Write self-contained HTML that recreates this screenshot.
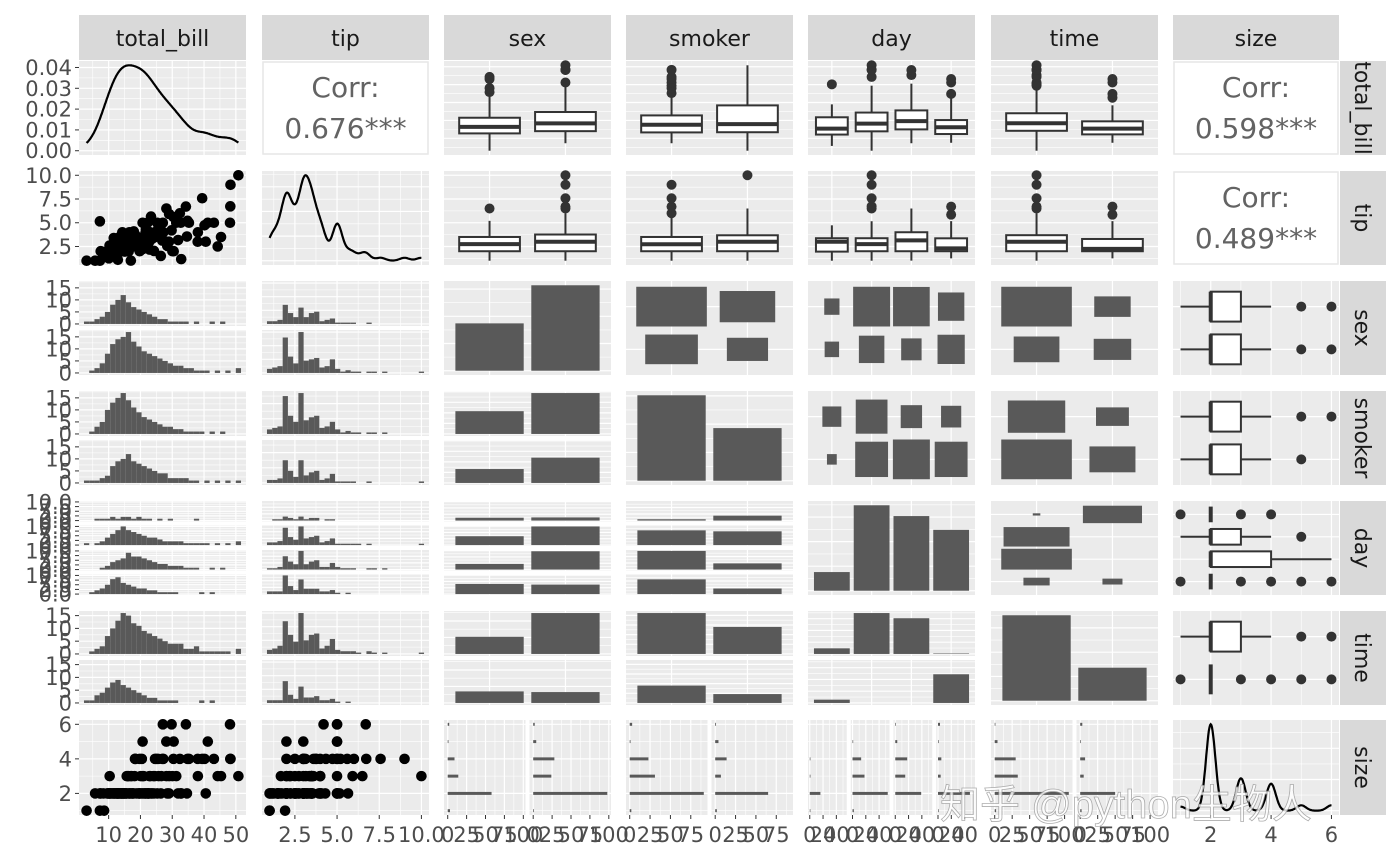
<!DOCTYPE html>
<html><head><meta charset="utf-8"><title>ggpairs tips</title>
<style>html,body{margin:0;padding:0;background:#fff;}svg{display:block;font-family:"DejaVu Sans","Liberation Sans","Noto Sans CJK SC",sans-serif;}</style>
</head><body>
<svg id="chart" width="1400" height="865" viewBox="0 0 1400 865" xmlns="http://www.w3.org/2000/svg"></svg>
<script>
// ---------- data ----------
const billVals=[3.07,5.75,7.25,7.25,7.51,8.35,8.58,9.55,9.78,10.07,10.33,10.34,10.65,11.02,11.35,11.61,12.02,12.46,12.66,12.9,13.03,13.28,13.42,13.81,14.07,14.48,14.78,15.04,15.38,15.69,16.04,16.31,16.45,16.97,17.26,17.51,17.92,18.29,18.43,18.78,19.44,19.82,20.08,20.29,20.65,20.69,21.01,21.58,22.23,22.49,22.76,23.1,23.68,24.06,24.27,24.59,25,25.28,25.71,26.41,26.88,27.05,27.2,28.17,28.44,28.97,29.03,29.8,30.06,30.4,31.27,31.85,32.4,32.83,34.3,34.81,35.26,38.07,39.42,40.17,40.55,41.19,43.11,44.3,45.35,48.17,48.27,48.33,50.81,24.52,22.82,20.45,19.65,18.35,16.58,15.77,14.83,13.94,12.69,11.87,17.47,26.59,38.01,30.46,25.56,23.33,21.7,19.77,15.48,16.99,22.42,28.15,32.68,34.63,20.76,10.29,14.31,18.15,21.16,27.18];
const tipVals=[1,1,1,5.15,2,1.5,1.92,1.45,1.73,1.25,1.67,2,1.5,1.98,2.5,3.39,1.97,1.5,2.5,1.1,2,2.72,3.48,2,2.5,2,3.23,1.96,3,3,2.24,2,2.47,3.5,2.74,3,4.08,3.76,3,3,3,3.18,3.15,2.75,3.35,5,3.5,3.92,5,3.5,3,4,3.31,3.6,2.03,3.61,3.75,5,4,1.5,3.12,5,4,6.5,2.56,3,5.92,4.2,2,5.6,5,3.18,6,1.17,6.7,5.2,5,4,7.58,4.73,3,5,5,2.5,3.5,5,6.73,9,10,3.48,2.18,3,3,2.5,4,2.23,3.02,3.06,2,1.63,3.5,3.41,3,2,4.34,5.65,4.3,2,2.02,1.01,3.48,3,5,3.55,2.24,2.6,4,3.5,3];
const sizeVals=[1,2,1,2,2,2,1,2,2,2,3,2,2,2,2,2,2,2,2,2,2,2,2,2,2,2,2,2,2,3,3,3,2,3,3,2,2,4,4,2,2,2,3,2,3,5,3,2,2,2,2,3,2,3,2,4,4,2,3,2,4,6,4,3,2,2,3,6,3,4,3,2,4,2,6,4,4,3,4,4,2,5,4,3,3,6,4,4,3,3,3,4,2,4,2,2,2,2,2,2,2,3,4,5,4,2,2,4,2,2,2,5,2,2,2,2,2,3,2,2];
const corrLabels=['0.676***','0.598***','0.489***'];

const sexLevels=['Female','Male'];
const smokerLevels=['No','Yes'];
const dayLevels=['Fri','Sat','Sun','Thur'];
const timeLevels=['Dinner','Lunch'];

const sexCounts=[87,157];
const smokerCounts=[151,93];
const dayCounts=[19,87,76,62];
const timeCounts=[176,68];

const crossSexSmoker=[[54,33],[97,60]];
const crossSexDay=[[9,28,18,32],[10,59,58,30]];
const crossSexTime=[[52,35],[124,33]];
const crossSmokerDay=[[4,45,57,45],[15,42,19,17]];
const crossSmokerTime=[[106,45],[70,23]];
const crossDayTime=[[12,7],[87,0],[76,0],[1,61]];

// boxplot stats [low, q1, median, q3, high]
const billBoxSex=[[3.07,12.75,16.4,21.5,34.8],[7.25,14.0,18.35,24.7,40.17]];
const billOutSex=[[35.83,38.07,43.11,44.3],[41.19,48.17,48.27,48.33,50.81]];
const billBoxSmoker=[[7.25,13.3,17.6,22.8,34.8],[3.07,13.4,17.9,28.4,50.81]];
const billOutSmoker=[[35.26,38.01,39.42,41.19,43.11,44.3,48.27],[]];
const billBoxDay=[[5.75,12.1,15.4,21.75,28.97],[3.07,13.9,18.2,24.4,39.42],[7.25,14.99,19.6,25.6,40.55],[7.51,12.4,16.2,20.2,32.68]];
const billOutDay=[[40.17],[44.3,48.27,48.33,50.81],[45.35,48.17],[34.83,41.19,43.11]];
const billBoxTime=[[3.07,14.2,18.4,24.0,38.07],[7.51,12.2,15.4,19.5,28.44]];
const billOutTime=[[39.42,40.17,40.55,41.19,44.3,45.35,48.17,48.27,48.33,50.81],[32.68,34.83,41.19,43.11]];
const tipBoxSex=[[1,2,2.75,3.5,5.2],[1,2,3,3.76,6.0]];
const tipOutSex=[[6.5],[6.5,6.7,7.58,9,10]];
const tipBoxSmoker=[[1,2,2.74,3.5,5.85],[1,2,3,3.68,6.5]];
const tipOutSmoker=[[6,6.7,7.58,9],[10]];
const tipBoxDay=[[1,1.96,3,3.37,4.73],[1,2,2.75,3.37,5.16],[1.01,2,3.15,4,6.5],[1.25,2,2.3,3.36,5.17]];
const tipOutDay=[[],[6.5,6.73,7.58,9,10],[],[5.85,6.7]];
const tipBoxTime=[[1,2,3,3.69,6.0],[1.25,2,2.25,3.29,5.17]];
const tipOutTime=[[6.5,6.7,7.58,9,10],[5.85,6.7]];
const sizeBoxSex=[[1,2,2,3,4],[1,2,2,3,4]];
const sizeOutSex=[[5,6],[5,6]];
const sizeBoxSmoker=[[1,2,2,3,4],[1,2,2,3,4]];
const sizeOutSmoker=[[5,6],[5]];
const sizeBoxDay=[[2,2,2,2,2],[1,2,2,3,4],[2,2,2,4,6],[2,2,2,2,2]];
const sizeOutDay=[[1,3,4],[5],[],[1,3,4,5,6]];
const sizeBoxTime=[[1,2,2,3,4],[2,2,2,2,2]];
const sizeOutTime=[[5,6],[1,3,4,5,6]];

// histogram counts (30 bins)
const billHistSex=[[1,1,2,3,5,8,10,12,9,7,6,5,4,3,2,2,1,1,1,1,0,1,0,0,1,0,1,0,0,0],[0,1,2,4,8,12,14,15,17,13,11,9,8,7,6,5,4,3,3,2,2,1,1,1,0,1,0,1,0,2]];
const billHistSmoker=[[0,1,3,5,10,13,15,17,14,11,9,7,6,5,4,3,3,2,2,1,1,1,1,0,1,0,1,0,0,0],[1,1,1,2,3,7,9,10,12,9,8,7,6,5,4,4,2,2,2,2,1,1,0,1,0,1,0,1,0,1]];
const billHistDay=[[0,0,1,1,1,2,1,2,2,1,2,1,1,0,1,0,1,0,0,0,0,1,0,0,0,0,0,0,0,0],[1,0,1,2,4,6,8,10,8,7,6,5,4,4,3,2,2,2,2,1,1,1,1,1,0,1,0,1,0,2],[0,0,0,1,2,4,5,6,9,7,7,6,5,4,3,3,2,2,2,1,1,1,0,0,1,0,1,0,0,0],[0,1,2,3,5,8,9,6,5,4,3,3,2,2,1,1,1,1,0,0,0,0,1,0,1,0,0,0,0,0]];
const billHistTime=[[0,1,2,3,7,10,13,16,15,12,11,9,8,7,6,5,4,4,4,2,2,3,1,1,1,1,1,1,0,2],[1,1,3,4,6,8,9,7,6,5,4,3,2,2,1,1,1,1,0,0,0,0,1,0,1,0,0,0,0,0]];
const tipHistSex=[[2,2,3,14,8,5,12,5,8,9,2,3,4,1,1,1,1,0,0,1,0,0,0,0,0,0,0,0,0,0],[3,4,5,26,12,7,30,9,10,11,4,5,10,3,1,2,1,1,0,1,1,0,1,0,0,0,0,0,0,1]];
const tipHistSmoker=[[3,4,5,25,12,8,27,9,11,12,4,5,8,3,1,2,1,1,0,1,1,0,1,0,0,0,0,0,0,0],[2,2,3,15,8,4,15,5,7,8,2,3,6,1,1,1,1,0,0,1,0,0,0,0,0,0,0,0,0,1]];
const tipHistDay=[[0,1,1,3,2,1,3,1,2,2,0,1,1,0,0,0,0,0,0,0,0,0,0,0,0,0,0,0,0,0],[2,2,3,13,6,4,14,5,6,7,2,3,5,1,1,1,1,1,0,1,0,0,0,0,0,0,0,0,0,1],[1,1,2,10,6,4,14,4,6,7,2,2,5,2,1,1,1,0,0,1,1,0,1,0,0,0,0,0,0,0],[2,2,2,14,6,3,11,4,4,4,2,2,3,1,0,1,0,0,0,0,0,0,0,0,0,0,0,0,0,0]];
const tipHistTime=[[3,4,6,24,14,9,30,10,14,15,4,6,11,3,2,2,2,1,0,2,1,0,1,0,0,0,0,0,0,1],[2,2,2,16,6,3,12,4,4,5,2,2,3,1,0,1,0,0,0,0,0,0,0,0,0,0,0,0,0,0]];
// size counts for sizes 1..6 per level
const sizeValues=[1,2,3,4,5,6];
const sizeCountSex=[[3,58,14,9,1,2],[1,98,24,28,4,2]];
const sizeCountSmoker=[[2,91,31,23,1,3],[2,65,7,14,4,1]];
const sizeCountDay=[[1,16,1,1,0,0],[2,53,18,13,1,0],[0,39,15,18,3,1],[1,48,4,5,1,3]];
const sizeCountTime=[[2,106,33,30,4,1],[2,50,5,7,1,3]];

// ---------- layout ----------
const vars=['total_bill','tip','sex','smoker','day','time','size'];
const levels={sex:sexLevels,smoker:smokerLevels,day:dayLevels,time:timeLevels};
const margCounts={sex:sexCounts,smoker:smokerCounts,day:dayCounts,time:timeCounts};
const crossTables={'sex|smoker':crossSexSmoker,'sex|day':crossSexDay,'sex|time':crossSexTime,'smoker|day':crossSmokerDay,'smoker|time':crossSmokerTime,'day|time':crossDayTime};
const NPTS=Math.min(billVals.length,tipVals.length,sizeVals.length);
const vals={total_bill:billVals.slice(0,NPTS),tip:tipVals.slice(0,NPTS),size:sizeVals.slice(0,NPTS)};
const dom={total_bill:[0.68,53.2],tip:[0.55,10.45],size:[0.75,6.25]};
const steps={total_bill:10,tip:2.5,size:2};
const bwScale={total_bill:0.75,tip:0.55,size:0.6};
const histRange={total_bill:[3.07,50.81],tip:[1,10]};
const boxStats={total_bill:{sex:billBoxSex,smoker:billBoxSmoker,day:billBoxDay,time:billBoxTime},tip:{sex:tipBoxSex,smoker:tipBoxSmoker,day:tipBoxDay,time:tipBoxTime},size:{sex:sizeBoxSex,smoker:sizeBoxSmoker,day:sizeBoxDay,time:sizeBoxTime}};
const boxOuts={total_bill:{sex:billOutSex,smoker:billOutSmoker,day:billOutDay,time:billOutTime},tip:{sex:tipOutSex,smoker:tipOutSmoker,day:tipOutDay,time:tipOutTime},size:{sex:sizeOutSex,smoker:sizeOutSmoker,day:sizeOutDay,time:sizeOutTime}};
const histTables={total_bill:{sex:billHistSex,smoker:billHistSmoker,day:billHistDay,time:billHistTime},tip:{sex:tipHistSex,smoker:tipHistSmoker,day:tipHistDay,time:tipHistTime}};
const sizeCounts={sex:sizeCountSex,smoker:sizeCountSmoker,day:sizeCountDay,time:sizeCountTime};

const PX=[79,262,444,626,808,991,1173], PY=[61,171,281,391,501,611,720];
const pw=c=>c===6?166:167, ph=r=>r===6?95:94;
const S=document.getElementById('chart');
const NS='http://www.w3.org/2000/svg';
function mk(tag,parent){const e=document.createElementNS(NS,tag);(parent||S).appendChild(e);return e;}
function set(e,o){for(const k in o)e.setAttribute(k,o[k]);return e;}
function lin(d,r){return v=>r[0]+(v-d[0])/(d[1]-d[0])*(r[1]-r[0]);}
function niceStep(range){const raw=range/3.5;const p=Math.pow(10,Math.floor(Math.log10(raw)));let best=p,bd=1e9;for(const m of [1,2,2.5,5,10]){const s=m*p;const d=Math.abs(Math.log(s/raw));if(d<bd){bd=d;best=s;}}return best;}
function ticksFor(d,st){const o=[];for(let k=Math.ceil(d[0]/st-1e-9);k*st<=d[1]+1e-9;k++)o.push(+(k*st).toFixed(10));return o;}
function minorsFor(d,st){const o=[];for(let k=Math.floor(d[0]/st)-1;k<=Math.ceil(d[1]/st);k++){const v=(k+0.5)*st;if(v>=d[0]&&v<=d[1])o.push(v);}return o;}
function fmt(v,st){const dec=(String(st).split('.')[1]||'').length;return v.toFixed(dec);}
function isCont(v){return v in vals;}
function cross(a,b){if(crossTables[a+'|'+b])return crossTables[a+'|'+b];const t=crossTables[b+'|'+a];return t[0].map((_,j)=>t.map(row=>row[j]));}

function rect(g,x,y,w,h,fill,name){const e=mk('rect',g);set(e,{x:x,y:y,width:Math.max(0,w),height:Math.max(0,h),fill:fill});


return e;}
function line(g,x1,y1,x2,y2,stroke,sw,name){const e=mk('line',g);set(e,{x1:x1,y1:y1,x2:x2,y2:y2,stroke:stroke,'stroke-width':sw});


return e;}
function txt(g,x,y,s,size,fill,anchor,name){const e=mk('text',g);set(e,{x:x,y:y,'font-size':size,fill:fill,'text-anchor':anchor});e.textContent=s;


return e;}
function circ(g,x,y,r,fill,name){const e=mk('circle',g);set(e,{cx:x,cy:y,r:r,fill:fill});


return e;}

function bg(g,x,y,w,h){rect(g,x,y,w,h,'#EBEBEB','panel-background');}
function contGrid(g,axis,sc,d,st,x,y,w,h){
  for(const v of minorsFor(d,st)){const p=sc(v);if(axis==='x')line(g,p,y,p,y+h,'#fff',0.6,'minor-gridline');else line(g,x,p,x+w,p,'#fff',0.6,'minor-gridline');}
  for(const v of ticksFor(d,st)){const p=sc(v);if(axis==='x')line(g,p,y,p,y+h,'#fff',1.2,'major-gridline');else line(g,x,p,x+w,p,'#fff',1.2,'major-gridline');}
}
function discGrid(g,axis,pos,x,y,w,h){for(const p of pos){if(axis==='x')line(g,p,y,p,y+h,'#fff',1.2,'major-gridline');else line(g,x,p,x+w,p,'#fff',1.2,'major-gridline');}}
function leftAxis(sc,d,st){const g=mk('g');


for(const t of ticksFor(d,st)){const p=sc(t);line(g,PX[0]-4,p,PX[0],p,'#333',1,'y-tick');txt(g,PX[0]-7,p+7.5,fmt(t,st),21,'#4D4D4D','end','y-tick-label');}}
function bottomAxis(sc,d,st){const g=mk('g');


const yb=PY[6]+ph(6);for(const t of ticksFor(d,st)){const p=sc(t);line(g,p,yb,p,yb+4,'#333',1,'x-tick');txt(g,p,yb+27,fmt(t,st),21,'#4D4D4D','middle','x-tick-label');}}

// ---------- panel types ----------
function densityPanel(g,r,c){const v=vars[c],data=vals[v];const x0=PX[c],y0=PY[r],w=pw(c),h=ph(r);
  const n=data.length,mean=data.reduce((a,b)=>a+b,0)/n;const sd=Math.sqrt(data.reduce((a,b)=>a+(b-mean)**2,0)/(n-1));
  const s=[...data].sort((a,b)=>a-b);const q=p=>{const i=(n-1)*p,lo=Math.floor(i);return s[lo]+(s[Math.min(lo+1,n-1)]-s[lo])*(i-lo);};
  const bw=bwScale[v]*0.9*Math.min(sd,(q(0.75)-q(0.25))/1.34)*Math.pow(n,-0.2);
  const mn=s[0],mx=s[n-1];const pts=[];
  for(let i=0;i<=240;i++){const xv=mn+(mx-mn)*i/240;let d=0;for(const xi of data)d+=Math.exp(-0.5*((xv-xi)/bw)**2);pts.push([xv,d/(n*bw*Math.sqrt(2*Math.PI))]);}
  const M=Math.max(...pts.map(p=>p[1]));const yd=[-0.05*M,1.05*M];const st=niceStep(yd[1]-yd[0]);
  const xs=lin(dom[v],[x0,x0+w]),ys=lin(yd,[y0+h,y0]);
  bg(g,x0,y0,w,h);contGrid(g,'x',xs,dom[v],steps[v],x0,y0,w,h);contGrid(g,'y',ys,yd,st,x0,y0,w,h);
  const p=mk('path',g);set(p,{d:'M'+pts.map(q=>xs(q[0]).toFixed(1)+','+ys(q[1]).toFixed(1)).join('L'),fill:'none',stroke:'#000','stroke-width':2.2});
  
  
  if(c===0)leftAxis(ys,yd,st);if(r===6)bottomAxis(xs,dom[v],steps[v]);}

function scatterPanel(g,r,c){const xv=vars[c],yv=vars[r];const x0=PX[c],y0=PY[r],w=pw(c),h=ph(r);
  const xs=lin(dom[xv],[x0,x0+w]),ys=lin(dom[yv],[y0+h,y0]);
  bg(g,x0,y0,w,h);contGrid(g,'x',xs,dom[xv],steps[xv],x0,y0,w,h);contGrid(g,'y',ys,dom[yv],steps[yv],x0,y0,w,h);
  for(let i=0;i<NPTS;i++)circ(g,xs(vals[xv][i]),ys(vals[yv][i]),5.3,'#000','scatter-point');
  if(c===0)leftAxis(ys,dom[yv],steps[yv]);if(r===6)bottomAxis(xs,dom[xv],steps[xv]);}

function corrPanel(g,r,c,label){const x0=PX[c],y0=PY[r],w=pw(c),h=ph(r);
  const e=rect(g,x0+1,y0+1,w-2,h-2,'#fff','corr-panel');e.setAttribute('stroke','#E6E6E6');e.setAttribute('stroke-width','1.5');
  txt(g,x0+w/2,y0+36,'Corr:',28,'#636363','middle','corr-title');
  txt(g,x0+w/2,y0+77,label,28,'#636363','middle','corr-value');}

function drawBoxV(g,cx,bw,st,outs,ys){const [lo,q1,md,q3,hi]=st;
  line(g,cx,ys(lo),cx,ys(q1),'#333',2,'box-whisker');line(g,cx,ys(q3),cx,ys(hi),'#333',2,'box-whisker');
  const b=rect(g,cx-bw/2,ys(q3),bw,ys(q1)-ys(q3),'#fff','box');b.setAttribute('stroke','#333');b.setAttribute('stroke-width','2');
  line(g,cx-bw/2,ys(md),cx+bw/2,ys(md),'#333',4,'box-median');
  for(const o of outs)circ(g,cx,ys(o),5,'#333','box-outlier');}
function drawBoxH(g,cy,bh,st,outs,xs){const [lo,q1,md,q3,hi]=st;
  line(g,xs(lo),cy,xs(q1),cy,'#333',2,'box-whisker');line(g,xs(q3),cy,xs(hi),cy,'#333',2,'box-whisker');
  const b=rect(g,xs(q1),cy-bh/2,xs(q3)-xs(q1),bh,'#fff','box');b.setAttribute('stroke','#333');b.setAttribute('stroke-width','2');
  line(g,xs(md),cy-bh/2,xs(md),cy+bh/2,'#333',4,'box-median');
  for(const o of outs)circ(g,xs(o),cy,5,'#333','box-outlier');}

function vboxPanel(g,r,c){const yv=vars[r],xv=vars[c];const lv=levels[xv],n=lv.length;const x0=PX[c],y0=PY[r],w=pw(c),h=ph(r);
  const ys=lin(dom[yv],[y0+h,y0]);const u=w/(n+0.2);const cx=i=>x0+(i+0.6)*u;
  bg(g,x0,y0,w,h);discGrid(g,'x',lv.map((_,i)=>cx(i)),x0,y0,w,h);contGrid(g,'y',ys,dom[yv],steps[yv],x0,y0,w,h);
  lv.forEach((_,i)=>drawBoxV(g,cx(i),u*0.8,boxStats[yv][xv][i],boxOuts[yv][xv][i],ys));}

function hboxPanel(g,r,c){const yv=vars[r],xv=vars[c];const lv=levels[yv],n=lv.length;const x0=PX[c],y0=PY[r],w=pw(c),h=ph(r);
  const xs=lin(dom[xv],[x0,x0+w]);const u=h/(n+0.2);const cy=i=>y0+(i+0.6)*u;
  bg(g,x0,y0,w,h);contGrid(g,'x',xs,dom[xv],steps[xv],x0,y0,w,h);discGrid(g,'y',lv.map((_,i)=>cy(i)),x0,y0,w,h);
  lv.forEach((_,i)=>drawBoxH(g,cy(i),u*0.7,boxStats[xv][yv][i],boxOuts[xv][yv][i],xs));}

function countPanel(g,r,c){const yv=vars[r],xv=vars[c];const ly=levels[yv],lx=levels[xv];const x0=PX[c],y0=PY[r],w=pw(c),h=ph(r);
  const t=cross(yv,xv);const M=Math.max(...t.flat());const ux=w/(lx.length+0.2),uy=h/(ly.length+0.2);
  const cx=j=>x0+(j+0.6)*ux,cy=i=>y0+h-(i+0.6)*uy;
  bg(g,x0,y0,w,h);discGrid(g,'x',lx.map((_,j)=>cx(j)),x0,y0,w,h);discGrid(g,'y',ly.map((_,i)=>cy(i)),x0,y0,w,h);
  ly.forEach((_,i)=>lx.forEach((_,j)=>{const f=Math.sqrt(t[i][j]/M)*0.93;if(t[i][j]>0)rect(g,cx(j)-ux*f/2,cy(i)-uy*f/2,ux*f,uy*f,'#595959','count-rect');}));}

function barPanel(g,r,c){const v=vars[c];const lv=levels[v];const cnt=margCounts[v];const x0=PX[c],y0=PY[r],w=pw(c),h=ph(r);
  const M=Math.max(...cnt);const yd=[-0.05*M,1.05*M];const st=niceStep(yd[1]-yd[0]);const ys=lin(yd,[y0+h,y0]);const u=w/(lv.length+0.2);const cx=i=>x0+(i+0.6)*u;
  bg(g,x0,y0,w,h);discGrid(g,'x',lv.map((_,i)=>cx(i)),x0,y0,w,h);contGrid(g,'y',ys,yd,st,x0,y0,w,h);
  cnt.forEach((k,i)=>rect(g,cx(i)-u*0.45,ys(k),u*0.9,ys(0)-ys(k),'#595959','bar'));}

function facetBarPanel(g,r,c){const yv=vars[r],xv=vars[c];const ly=levels[yv],lx=levels[xv];const x0=PX[c],y0=PY[r],w=pw(c),h=ph(r);
  const t=cross(yv,xv);const M=Math.max(...t.flat());const yd=[-0.05*M,1.05*M];const st=niceStep(yd[1]-yd[0]);
  const gap=4,k=ly.length,fh=(h-gap*(k-1))/k;const u=w/(lx.length+0.2);const cx=j=>x0+(j+0.6)*u;
  ly.forEach((_,i)=>{const fy=y0+i*(fh+gap);const ys=lin(yd,[fy+fh,fy]);
    bg(g,x0,fy,w,fh);discGrid(g,'x',lx.map((_,j)=>cx(j)),x0,fy,w,fh);contGrid(g,'y',ys,yd,st,x0,fy,w,fh);
    lx.forEach((_,j)=>{if(t[i][j]>0)rect(g,cx(j)-u*0.45,ys(t[i][j]),u*0.9,ys(0)-ys(t[i][j]),'#595959','facet-bar');});});}

function facetHistPanel(g,r,c){const yv=vars[r],xv=vars[c];const ly=levels[yv];const x0=PX[c],y0=PY[r],w=pw(c),h=ph(r);
  const hs=histTables[xv][yv];const M=Math.max(...hs.flat());const yd=[-0.05*M,1.05*M];const st=niceStep(yd[1]-yd[0]);
  const gap=4,k=ly.length,fh=(h-gap*(k-1))/k;const xs=lin(dom[xv],[x0,x0+w]);
  const [mn,mx]=histRange[xv];const bw=(mx-mn)/29;
  ly.forEach((_,i)=>{const fy=y0+i*(fh+gap);const ys=lin(yd,[fy+fh,fy]);
    bg(g,x0,fy,w,fh);contGrid(g,'x',xs,dom[xv],steps[xv],x0,fy,w,fh);contGrid(g,'y',ys,yd,st,x0,fy,w,fh);
    hs[i].forEach((n,b)=>{if(n>0){const xc=mn+b*bw;rect(g,xs(xc-bw/2),ys(n),xs(xc+bw/2)-xs(xc-bw/2),ys(0)-ys(n),'#595959','hist-bar');}});
    if(c===0)leftAxis(ys,yd,st);});}

function facetHistHPanel(g,r,c){const yv=vars[r],xv=vars[c];const lx=levels[xv];const x0=PX[c],y0=PY[r],w=pw(c),h=ph(r);
  const cs=sizeCounts[xv];const M=Math.max(...cs.flat());const xd=[-0.05*M,1.05*M];const st=niceStep(xd[1]-xd[0]);
  const gap=4,k=lx.length,fw=(w-gap*(k-1))/k;const ys=lin(dom[yv],[y0+h,y0]);const th=5/29;
  lx.forEach((_,j)=>{const fx=x0+j*(fw+gap);const xs=lin(xd,[fx,fx+fw]);
    bg(g,fx,y0,fw,h);contGrid(g,'x',xs,xd,st,fx,y0,fw,h);contGrid(g,'y',ys,dom[yv],steps[yv],fx,y0,fw,h);
    sizeValues.forEach((s,b)=>{const n=cs[j][b];if(n>0)rect(g,xs(0),ys(s+th/2),xs(n)-xs(0),ys(s-th/2)-ys(s+th/2),'#595959','hist-bar');});
    bottomAxis(xs,xd,st);});}

// ---------- draw ----------
vars.forEach((v,c)=>{const g=mk('g');
  
  
  rect(g,PX[c],15,pw(c),45,'#D9D9D9','strip-background');txt(g,PX[c]+pw(c)/2,46,v,22,'#1A1A1A','middle','strip-label');});
vars.forEach((v,r)=>{const g=mk('g');
  
  
  rect(g,1340,PY[r],46,ph(r),'#D9D9D9','strip-background');
  const t=txt(g,0,0,v,22,'#1A1A1A','middle','strip-label');t.setAttribute('transform','translate('+(1355)+','+(PY[r]+ph(r)/2)+') rotate(90)');});

const corrIndex={'0|1':0,'0|6':1,'1|6':2};
for(let r=0;r<7;r++)for(let c=0;c<7;c++){const g=mk('g');
  
  
  const ry=vars[r],cx=vars[c];
  if(r===c){isCont(cx)?densityPanel(g,r,c):barPanel(g,r,c);}
  else if(r<c){
    if(isCont(ry)&&isCont(cx))corrPanel(g,r,c,corrLabels[corrIndex[r+'|'+c]]);
    else if(isCont(ry))vboxPanel(g,r,c);
    else if(isCont(cx))hboxPanel(g,r,c);
    else countPanel(g,r,c);}
  else{
    if(isCont(ry)&&isCont(cx))scatterPanel(g,r,c);
    else if(isCont(cx))facetHistPanel(g,r,c);
    else if(isCont(ry))facetHistHPanel(g,r,c);
    else facetBarPanel(g,r,c);}
}
const wm=txt(S,940,818,'知乎 @python生物人',40,'#ffffff','start','watermark');
wm.setAttribute('opacity','0.8');
wm.setAttribute('stroke','#9a9a9a');
wm.setAttribute('stroke-width','0.8');
wm.setAttribute('font-family','"Liberation Sans","Noto Sans CJK SC",sans-serif');
</script>
</body></html>
